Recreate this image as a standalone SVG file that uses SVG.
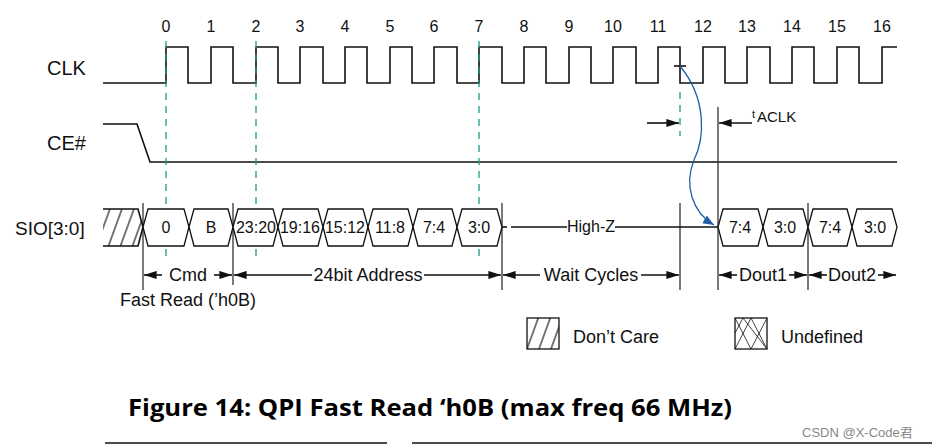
<svg xmlns="http://www.w3.org/2000/svg" width="932" height="448" viewBox="0 0 932 448">
<style>
.w{fill:none;stroke:#111;stroke-width:1.6}
.g{fill:none;stroke:#333;stroke-width:1.3}
.d{fill:none;stroke:#1a9a8a;stroke-width:1.3;stroke-dasharray:7,6}
.t{font-family:"Liberation Sans",Arial,sans-serif;fill:#111}
.c{font-family:"Liberation Sans",Arial,sans-serif;fill:#111;font-size:16px;text-anchor:middle}
.cell{fill:#fff;stroke:#111;stroke-width:1.3}
</style>
<defs>
<marker id="ah" viewBox="0 0 14 10" refX="14" refY="5" markerWidth="14" markerHeight="9" orient="auto" markerUnits="userSpaceOnUse"><path d="M0,0.5 L14,5 L0,9.5 Z" fill="#111"/></marker>
<marker id="bh" viewBox="0 0 10 10" refX="10" refY="5" markerWidth="11" markerHeight="11" orient="auto" markerUnits="userSpaceOnUse"><path d="M0,1 L10,5 L0,9 Z" fill="#1f5fa8"/></marker>
<pattern id="hatch" width="12" height="40" patternUnits="userSpaceOnUse" patternTransform="skewX(-20)"><line x1="6" y1="0" x2="6" y2="40" stroke="#111" stroke-width="1.2"/></pattern>
</defs>
<rect width="932" height="448" fill="#fff"/>

<g id="labels">
<text class="t" x="47" y="75" font-size="20">CLK</text>
<text class="t" x="47" y="150" font-size="20">CE#</text>
<text class="t" x="15" y="235" font-size="19">SIO[3:0]</text>
<g font-size="17" class="c">
<text x="166" y="32">0</text><text x="211" y="32">1</text><text x="256" y="32">2</text><text x="300" y="32">3</text><text x="345" y="32">4</text><text x="390" y="32">5</text><text x="434" y="32">6</text><text x="479" y="32">7</text><text x="524" y="32">8</text><text x="569" y="32">9</text><text x="613" y="32">10</text><text x="658" y="32">11</text><text x="703" y="32">12</text><text x="747" y="32">13</text><text x="792" y="32">14</text><text x="837" y="32">15</text><text x="882" y="32">16</text>
</g>
</g>

<g id="clk">
<path class="w" d="M103,83 H166 V47 H188 V83 H211 V47 H233 V83 H256 V47 H278 V83 H300 V47 H323 V83 H345 V47 H367 V83 H390 V47 H412 V83 H434 V47 H457 V83 H479 V47 H502 V83 H524 V47 H546 V83 H569 V47 H591 V83 H613 V47 H636 V83 H658 V47 H680 V83 H703 V47 H725 V83 H747 V47 H770 V83 H792 V47 H814 V83 H837 V47 H859 V83 H882 V47 H897"/>
<line class="w" x1="674" y1="66" x2="686" y2="66"/>
</g>

<g id="ce">
<path class="w" d="M103,124 H137 L150,162 H897"/>
</g>

<g id="guides">
<line class="d" x1="166" y1="41" x2="166" y2="262"/>
<line class="d" x1="256" y1="41" x2="256" y2="262"/>
<line class="d" x1="479" y1="41" x2="479" y2="262"/>
<line class="d" x1="680" y1="92" x2="680" y2="136"/>
<line class="g" x1="143" y1="203" x2="143" y2="290"/>
<line class="g" x1="233" y1="203" x2="233" y2="285"/>
<line class="g" x1="502" y1="203" x2="502" y2="290"/>
<line class="g" x1="680" y1="203" x2="680" y2="290"/>
<line class="g" x1="718" y1="107" x2="718" y2="290" stroke="#555" stroke-width="1.6"/>
<line class="g" x1="808" y1="203" x2="808" y2="290"/>
</g>

<g id="sio">
<path d="M103,209 H138 L143,227 L138,246 H103 Z" fill="url(#hatch)"/>
<path class="w" d="M103,209 H138 L143,227 L138,246 H103"/>
<g class="cell">
<path d="M143,227 L148,209 H184 L189,227 L184,246 H148 Z"/>
<path d="M189,227 L194,209 H228 L233,227 L228,246 H194 Z"/>
<path d="M233,227 L238,209 H273 L278,227 L273,246 H238 Z"/>
<path d="M278,227 L283,209 H318 L323,227 L318,246 H283 Z"/>
<path d="M323,227 L328,209 H363 L368,227 L363,246 H328 Z"/>
<path d="M368,227 L373,209 H408 L413,227 L408,246 H373 Z"/>
<path d="M413,227 L418,209 H452 L457,227 L452,246 H418 Z"/>
<path d="M457,227 L462,209 H497 L502,227 L497,246 H462 Z"/>
<path d="M718,227 L723,209 H758 L763,227 L758,246 H723 Z"/>
<path d="M763,227 L768,209 H803 L808,227 L803,246 H768 Z"/>
<path d="M808,227 L813,209 H847 L852,227 L847,246 H813 Z"/>
<path d="M852,227 L857,209 H892 L897,227 L892,246 H857 Z"/>
</g>
<line class="w" x1="502" y1="227" x2="507" y2="227"/>
<line class="w" x1="511" y1="227" x2="567" y2="227"/>
<line class="w" x1="615" y1="227" x2="718" y2="227"/>
<text x="591" y="232" class="c" font-size="13">High-Z</text>
<g class="c">
<text x="166" y="233">0</text><text x="211" y="233">B</text><text x="256" y="233">23:20</text><text x="300" y="233">19:16</text><text x="345" y="233">15:12</text><text x="390" y="233">11:8</text><text x="434" y="233">7:4</text><text x="479" y="233">3:0</text>
<text x="740" y="233">7:4</text><text x="785" y="233">3:0</text><text x="830" y="233">7:4</text><text x="875" y="233">3:0</text>
</g>
</g>

<g id="connectors">
<path d="M680,66 C708,100 704,140 694,160 C684,185 692,212 714,225" fill="none" stroke="#1f5fa8" stroke-width="1.3" marker-end="url(#bh)"/>
<line class="w" x1="647" y1="123" x2="679" y2="123" stroke-width="1.3" marker-end="url(#ah)"/>
<line class="w" x1="752" y1="123" x2="719" y2="123" stroke-width="1.3" marker-end="url(#ah)"/>
<g class="w" stroke-width="1.3">
<line x1="162" y1="275" x2="144" y2="275" marker-end="url(#ah)"/>
<line x1="214" y1="275" x2="232" y2="275" marker-end="url(#ah)"/>
<line x1="312" y1="275" x2="234" y2="275" marker-end="url(#ah)"/>
<line x1="424" y1="275" x2="501" y2="275" marker-end="url(#ah)"/>
<line x1="540" y1="275" x2="503" y2="275" marker-end="url(#ah)"/>
<line x1="641" y1="275" x2="679" y2="275" marker-end="url(#ah)"/>
<line x1="737" y1="275" x2="719" y2="275" marker-end="url(#ah)"/>
<line x1="789" y1="275" x2="807" y2="275" marker-end="url(#ah)"/>
<line x1="827" y1="275" x2="809" y2="275" marker-end="url(#ah)"/>
<line x1="878" y1="275" x2="896" y2="275" marker-end="url(#ah)"/>
</g>
</g>

<g id="annotations" class="t" font-size="18">
<text x="188" y="281" text-anchor="middle">Cmd</text>
<text x="368" y="281" text-anchor="middle">24bit Address</text>
<text x="591" y="281" text-anchor="middle">Wait Cycles</text>
<text x="763" y="281" text-anchor="middle">Dout1</text>
<text x="852" y="281" text-anchor="middle">Dout2</text>
<text x="188" y="306" text-anchor="middle">Fast Read (’h0B)</text>
<text x="752" y="118" font-size="11">t</text>
<text x="757" y="122" font-size="15">ACLK</text>
</g>

<g id="legend">
<rect x="527" y="318" width="32" height="31" fill="url(#hatch)" stroke="#111" stroke-width="1.3"/>
<text class="t" x="573" y="343" font-size="18">Don’t Care</text>
<rect x="735" y="318" width="32" height="31" fill="#fff" stroke="#111" stroke-width="1.3"/>
<path d="M735,318 L751,349 M751,318 L767,349 M751,318 L735,349 M767,318 L751,349 M743,318 L735,333 M743,318 L767,349" fill="none" stroke="#111" stroke-width="0.8"/>
<text class="t" x="781" y="343" font-size="18">Undefined</text>
</g>

<g id="caption">
<text x="128" y="416" font-family="'Open Sans','Liberation Sans',sans-serif" font-weight="bold" font-size="23" textLength="604" lengthAdjust="spacingAndGlyphs" fill="#000">Figure 14: QPI Fast Read ‘h0B (max freq 66 MHz)</text>
<text x="802" y="437" font-family="'Liberation Sans','Noto Sans CJK SC',sans-serif" font-size="13" fill="#888">CSDN @X-Code君</text>
<line x1="105" y1="443" x2="387" y2="443" stroke="#111" stroke-width="1.5"/>
<line x1="412" y1="443" x2="932" y2="443" stroke="#111" stroke-width="1.5"/>
</g>
</svg>
